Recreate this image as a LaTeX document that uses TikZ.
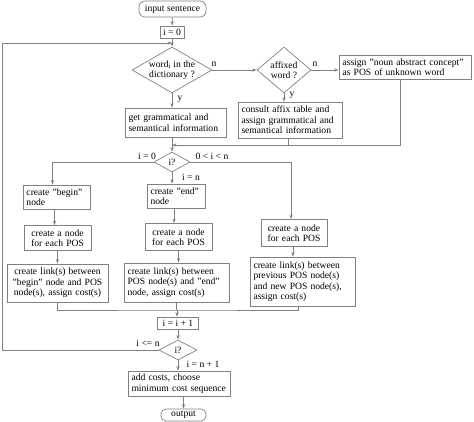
\documentclass[tikz,border=0pt]{standalone}
\usepackage{fontspec}
\setmainfont{Liberation Serif}
\usetikzlibrary{shapes.geometric,arrows.meta}
\definecolor{lc}{gray}{0.5}
\tikzset{
  base/.style={draw=lc, line width=0.7pt, font=\fontsize{9.6}{10.5}\selectfont, inner xsep=3.5pt, inner ysep=0pt, text=black},
  box/.style={base, rectangle, align=left},
  cbox/.style={base, rectangle, align=center},
  dia/.style={base, diamond, align=center, inner sep=0pt},
  term/.style={base, rectangle, rounded corners=6pt, align=center},
  conn/.style={draw=lc, line width=0.7pt},
  arr/.style={conn, -{Stealth[length=4.5pt,width=3.2pt]}},
  lab/.style={font=\fontsize{9.6}{10.5}\selectfont, inner sep=0pt, text=black},
}
\begin{document}
\begin{tikzpicture}[x=1pt,y=1pt]
\useasboundingbox (0,0) rectangle (474,-422);
% nodes
\node[term, minimum width=67pt, minimum height=16pt] (in) at (172.5,-9) {input sentence};
\node[cbox, minimum width=24pt, minimum height=12pt, inner xsep=1pt] (i0) at (172,-32) {i = 0};
\node[dia, minimum width=80pt, minimum height=46pt, aspect=1.74] (d1) at (172,-70) {word\textsubscript{i} in the\\dictionary ?};
\node[dia, minimum width=54pt, minimum height=46pt, aspect=1.17] (d2) at (284,-70) {affixed\\word ?};
\node[box, text width=125pt, minimum height=24pt] (noun) at (405,-67) {assign "noun abstract concept"\\as POS of unknown word};
\node[box, text width=94pt, minimum height=29pt] (get) at (175.5,-122.5) {get grammatical and\\semantical information};
\node[box, text width=97pt, minimum height=36pt] (consult) at (290,-120) {consult affix table and\\assign grammatical and\\semantical information};
\node[dia, minimum width=36pt, minimum height=20pt, aspect=1.8] (d3) at (172,-162) {i?};
\node[box, text width=60pt, minimum height=24pt] (begin) at (56.5,-197) {create "begin"\\node};
\node[box, text width=51pt, minimum height=24pt] (endbox) at (176,-196) {create "end"\\node};
\node[cbox, text width=60pt, minimum height=25pt] (nodeL) at (57.5,-238) {create a node\\for each POS};
\node[cbox, text width=60pt, minimum height=27pt] (nodeM) at (178.5,-237) {create a node\\for each POS};
\node[cbox, text width=59pt, minimum height=27pt] (nodeR) at (294,-233) {create a node\\for each POS};
\node[cbox, text width=94pt, minimum height=38pt] (linkL) at (57.5,-283) {create link(s) between\\"begin" node and POS\\node(s), assign cost(s)};
\node[box, text width=98pt, minimum height=39pt] (linkM) at (176.5,-282.5) {create link(s) between\\POS node(s) and "end"\\node, assign cost(s)};
\node[box, text width=98pt, minimum height=49pt] (linkR) at (302.5,-281.5) {create link(s) between\\previous POS node(s)\\and new POS node(s),\\assign cost(s)};
\node[cbox, minimum width=41pt, minimum height=12pt, inner xsep=1pt] (inc) at (178,-323) {i = i + 1};
\node[dia, minimum width=38pt, minimum height=20pt, aspect=1.9] (d4) at (178,-350) {i?};
\node[box, text width=95pt, minimum height=25pt] (add) at (179,-383.5) {add costs, choose\\minimum cost sequence};
\node[term, minimum width=45pt, minimum height=12pt, rounded corners=5pt] (out) at (183.5,-415) {output};
% helper coordinates
\coordinate (lx) at (2,-350);
\coordinate (j1) at (172,-43);
\coordinate (j2) at (172,-145);
\coordinate (j3) at (177,-310);
% connectors
\draw[arr] (in) -- (i0);
\draw[arr] (i0) -- (d1);
\draw[arr] (d4.west) -- (d4.west -| lx) |- (j1);
\draw[arr] (d1.east) -- (d2.west);
\draw[arr] (d2.east) -- (d2.east -| noun.west);
\draw[arr] (d1.south) -- (d1.south |- get.north);
\draw[arr] (d2.south) -- (d2.south |- consult.north);
\draw[arr] ([xshift=-5pt]noun.south) |- (j2);
\draw[conn] ([xshift=-2pt]consult.south) -- ([xshift=-2pt]consult.south |- j2);
\draw[arr] (get.south -| d3.north) -- (d3.north);
\draw[arr] (d3.west) -| ([xshift=-4pt]begin.north);
\draw[arr] (d3.east) -| ([xshift=-3pt]nodeR.north);
\draw[arr] (d3.south) -- (d3.south |- endbox.north);
\draw[arr] ([xshift=-2pt]begin.south) -- ([xshift=-2pt]begin.south |- nodeL.north);
\draw[arr] (nodeL.south) -- (nodeL.south |- linkL.north);
\draw[arr] ([xshift=-2pt]endbox.south) -- ([xshift=-2pt]endbox.south |- nodeM.north);
\draw[arr] (nodeM.south) -- (nodeM.south |- linkM.north);
\draw[arr] ([xshift=-1pt]nodeR.south) -- ([xshift=-1pt]nodeR.south |- linkR.north);
\draw[conn] (linkL.south) |- (j3) -| ([xshift=-4pt]linkR.south);
\draw[conn] (linkM.south) -- (linkM.south |- j3);
\draw[arr] (j3) -- (j3 |- inc.north);
\draw[arr] (inc.south) -- (d4.north);
\draw[arr] (d4.south) -- (d4.south |- add.north);
\draw[arr] (out.north |- add.south) -- (out.north);
% labels
\node[lab] (ln1) at (214,-64) {n};
\node[lab] (ln2) at (315,-64) {n};
\node[lab] (ly1) at (180,-99) {y};
\node[lab] (ly2) at (292,-95) {y};
\node[lab] (li0) at (147,-156) {i = 0};
\node[lab] (lmid) at (212,-156) {0 < i < n};
\node[lab] (lin) at (191,-177) {i = n};
\node[lab] (lle) at (148,-343) {i <= n};
\node[lab] (lnp) at (203,-364) {i = n + 1};
\end{tikzpicture}
\end{document}
